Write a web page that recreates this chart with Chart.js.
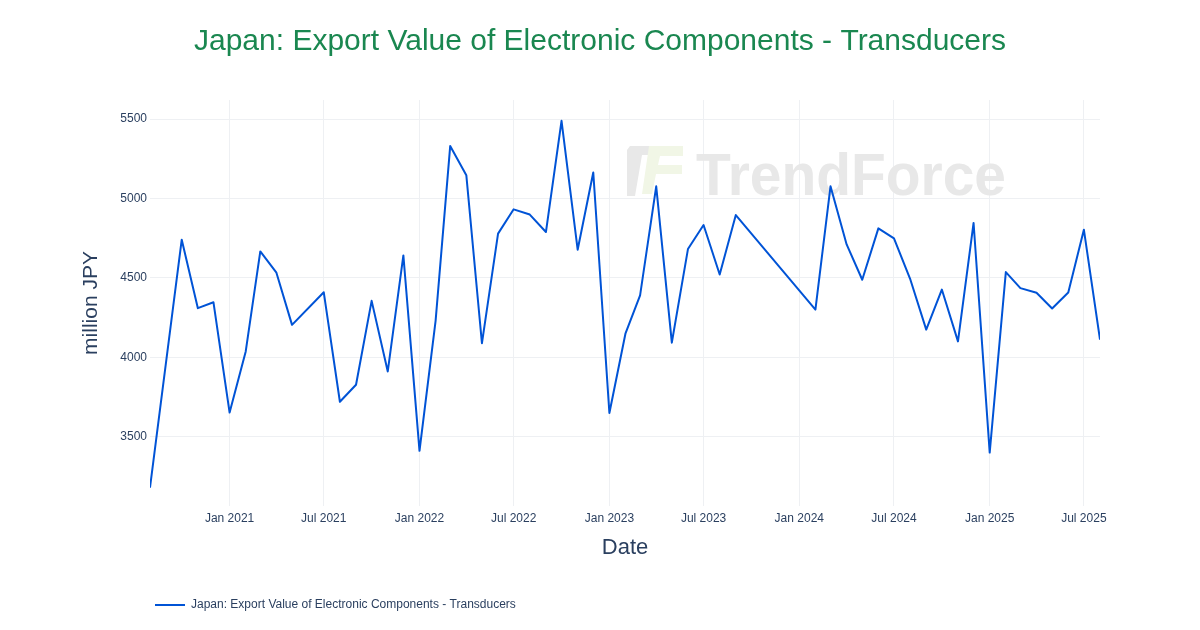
<!DOCTYPE html>
<html>
<head>
<meta charset="utf-8">
<script src="https://cdn.jsdelivr.net/npm/chart.js@4"></script>
<style>
  html, body { margin: 0; padding: 0; background: #fff; }
  #wrap { width: 1200px; height: 630px; }
</style>
</head>
<body>
<div id="wrap"><canvas id="chart"></canvas></div>
<script>
// monthly export value, million JPY (months with no point in the source are left out)
const months = [
  "2020-08", "2020-10", "2020-11", "2020-12",
  "2021-01", "2021-02", "2021-03", "2021-04", "2021-05", "2021-07", "2021-08", "2021-09", "2021-10", "2021-11", "2021-12",
  "2022-01", "2022-02", "2022-03", "2022-04", "2022-05", "2022-06", "2022-07", "2022-08", "2022-09", "2022-10", "2022-11", "2022-12",
  "2023-01", "2023-02", "2023-03", "2023-04", "2023-05", "2023-06", "2023-07", "2023-08", "2023-09",
  "2024-02", "2024-03", "2024-04", "2024-05", "2024-06", "2024-07", "2024-08", "2024-09", "2024-10", "2024-11", "2024-12",
  "2025-01", "2025-02", "2025-03", "2025-04", "2025-05", "2025-06", "2025-07", "2025-08"
]
const values = [
  3180, 4741, 4310, 4347,
  3653, 4038, 4667, 4533, 4205, 4410, 3721, 3828, 4356, 3912, 4642,
  3412, 4232, 5330, 5147, 4089, 4779, 4932, 4899, 4789, 5489, 4678, 5164,
  3650, 4152, 4390, 5077, 4093, 4682, 4833, 4522, 4896,
  4301, 5077, 4711, 4489, 4812, 4749, 4495, 4175, 4427, 4101, 4846,
  3401, 4537, 4436, 4407, 4308, 4409, 4804, 4112
]
const xTickMonths = ["2021-01", "2021-07", "2022-01", "2022-07", "2023-01", "2023-07", "2024-01", "2024-07", "2025-01", "2025-07"]
const yTicks = [3500, 4000, 4500, 5000, 5500]

const seriesName = "Japan: Export Value of Electronic Components - Transducers"
const monthNames = ["Jan", "Feb", "Mar", "Apr", "May", "Jun", "Jul", "Aug", "Sep", "Oct", "Nov", "Dec"]
const FONT = "'Liberation Sans', Arial, sans-serif"
const TEXT = "#2a3f5f"

// month string -> day number, so the x axis is spaced like a date axis
const toDay = (m) => {
  const [y, mo] = m.split("-").map(Number)
  return Date.UTC(y, mo - 1, 1) / 864e5
}
const dayLabel = (d) => {
  const dt = new Date(d * 864e5)
  return monthNames[dt.getUTCMonth()] + " " + dt.getUTCFullYear()
}

const points = months.map((m, i) => ({ x: toDay(m), y: values[i] }))

// faint TrendForce watermark behind the line
const watermark = {
  id: "watermark",
  beforeDatasetsDraw(chart) {
    const { ctx, chartArea } = chart
    const lx = chartArea.left + 477
    const top = chartArea.top + 46
    const poly = (pts) => {
      ctx.beginPath()
      pts.forEach(([x, y], i) => (i ? ctx.lineTo(lx + x, top + y) : ctx.moveTo(lx + x, top + y)))
      ctx.closePath()
      ctx.fill()
    }
    ctx.save()
    // logo: grey slanted T + light green F
    ctx.fillStyle = "#e8e8e8"
    poly([[3, 0], [34, 0], [30, 9], [15, 9], [8, 50], [0, 50], [0, 4]])
    ctx.fillStyle = "#f1f6e6"
    poly([[22, 0], [56, 0], [56, 10], [33, 10], [31, 19], [55, 19], [55, 28], [29, 28], [25, 48], [15, 48]])
    // wordmark
    ctx.fillStyle = "#e8e8e8"
    ctx.font = "bold 60px " + FONT
    ctx.textBaseline = "alphabetic"
    const w = ctx.measureText("TrendForce").width
    ctx.translate(lx + 69, top + 49)
    ctx.scale(310 / w, 1)
    ctx.fillText("TrendForce", 0, 0)
    ctx.restore()
  },
}

const ctx = document.getElementById("chart")
new Chart(ctx, {
  type: "line",
  data: {
    datasets: [{
      label: seriesName,
      data: points,
      borderColor: "#0053d6",
      backgroundColor: "#0053d6",
      borderWidth: 2,
      borderJoinStyle: "round",
      pointRadius: 0,
      tension: 0,
    }],
  },
  options: {
    responsive: true,
    maintainAspectRatio: false,
    animation: false,
    events: [],
    layout: { padding: { left: 70, right: 70, top: 0, bottom: 9 } },
    plugins: {
      title: {
        display: true,
        text: seriesName,
        color: "#1a8750",
        font: { family: FONT, size: 30, weight: "normal" },
        padding: { top: 24, bottom: 40 },
      },
      legend: {
        display: true,
        position: "bottom",
        align: "start",
        fullSize: false,
        labels: {
          usePointStyle: true,
          pointStyle: "line",
          pointStyleWidth: 30,
          padding: 5,
          color: TEXT,
          font: { family: FONT, size: 12 },
        },
      },
      tooltip: { enabled: false },
    },
    scales: {
      x: {
        type: "linear",
        min: toDay(months[0]),
        max: toDay(months[months.length - 1]),
        afterBuildTicks: (scale) => {
          scale.ticks = xTickMonths.map((m) => ({ value: toDay(m) }))
        },
        afterFit: (scale) => { scale.height = 88 },
        ticks: {
          callback: (v) => dayLabel(v),
          color: TEXT,
          font: { family: FONT, size: 12 },
          padding: 5,
          maxRotation: 0,
          autoSkip: false,
        },
        grid: { color: "#eef0f3", lineWidth: 1, drawTicks: false },
        border: { display: false },
        title: {
          display: true,
          text: "Date",
          color: TEXT,
          font: { family: FONT, size: 22 },
          padding: { top: 0, bottom: 33 },
        },
      },
      y: {
        min: 3065,
        max: 5620,
        afterBuildTicks: (scale) => {
          scale.ticks = yTicks.map((v) => ({ value: v }))
        },
        afterFit: (scale) => { scale.width = 80 },
        ticks: {
          callback: (v) => String(v),
          color: TEXT,
          font: { family: FONT, size: 12 },
          padding: 3,
        },
        grid: { color: "#eef0f3", lineWidth: 1, drawTicks: false },
        border: { display: false },
        title: {
          display: true,
          text: "million JPY",
          color: TEXT,
          font: { family: FONT, size: 21 },
          padding: { top: 9, bottom: 0 },
        },
      },
      // empty right-hand gutter so the title centres on the page
      yRight: {
        position: "right",
        display: true,
        afterFit: (scale) => { scale.width = 30 },
        ticks: { display: false },
        grid: { display: false },
        border: { display: false },
      },
    },
  },
  plugins: [watermark],
})
</script>
</body>
</html>
